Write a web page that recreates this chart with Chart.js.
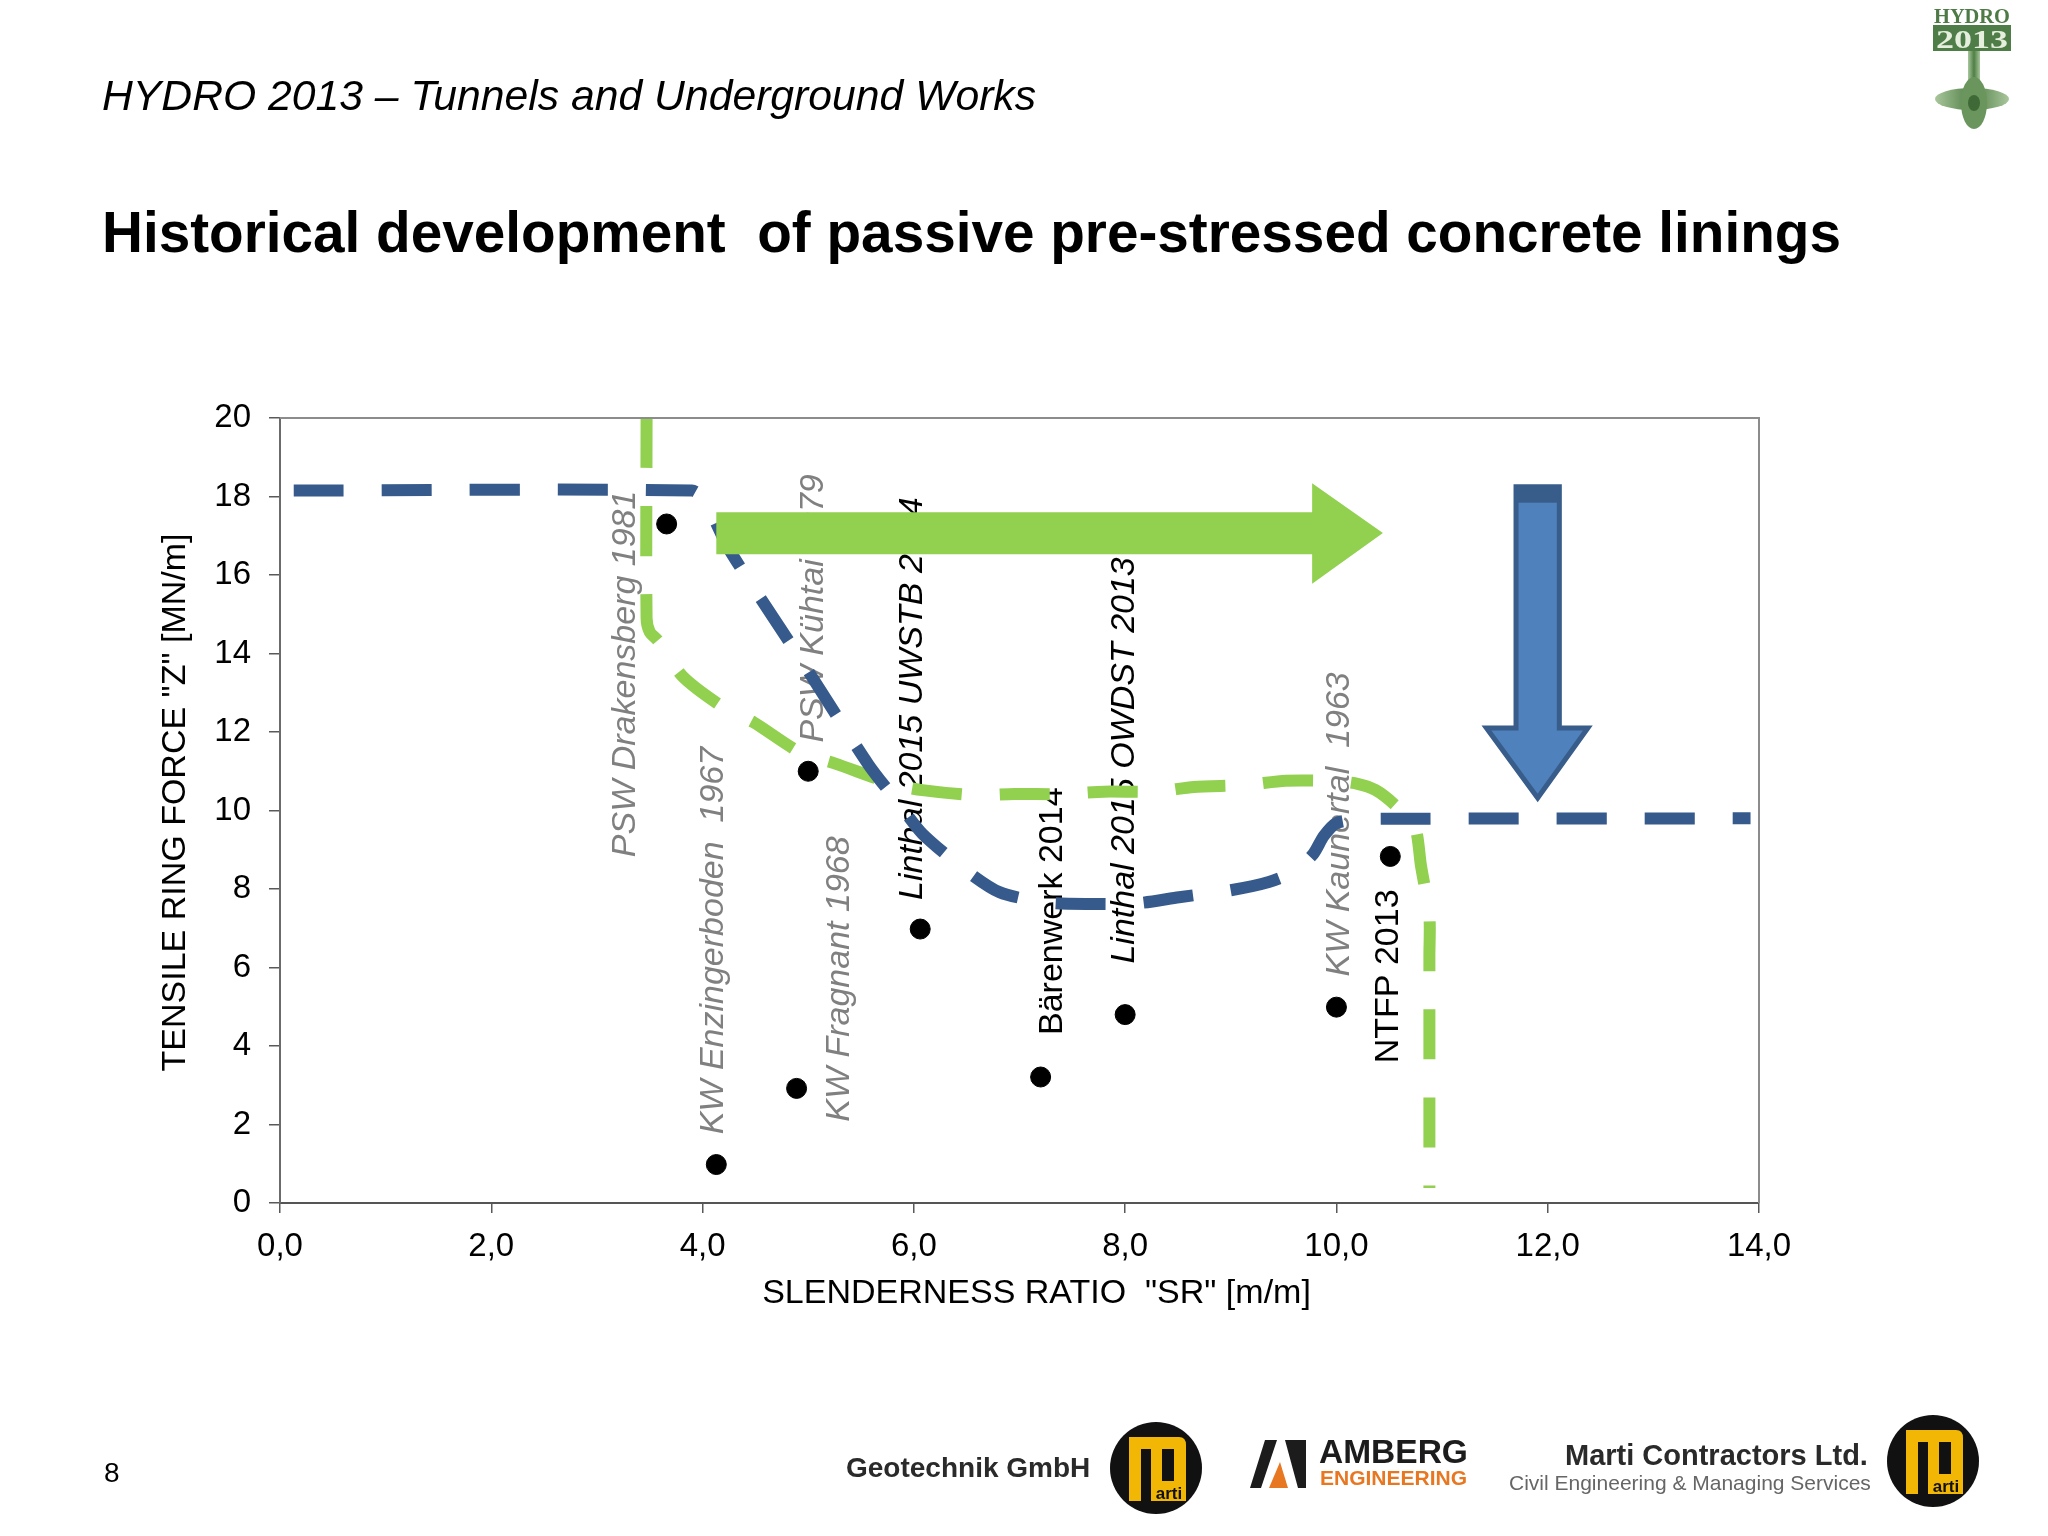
<!DOCTYPE html>
<html>
<head>
<meta charset="utf-8">
<title>Historical development of passive pre-stressed concrete linings</title>
<script src="https://cdn.jsdelivr.net/npm/chart.js@4.4.1/dist/chart.umd.min.js"></script>
<style>
  html, body { margin: 0; padding: 0; background: #fff; }
  #pagina { position: relative; width: 2048px; height: 1536px; overflow: hidden; font-family: "Liberation Sans", Arial, sans-serif; color: #000; }
  #grafica { position: absolute; left: 0; top: 0; }
  .txt { position: absolute; white-space: nowrap; line-height: 1; }
  .logo { position: absolute; }
</style>
</head>
<body>
<div id="pagina">
  <canvas id="grafica" width="2048" height="1536"></canvas>

  <div class="txt" style="left:102px; top:74px; font-size:42.7px; font-style:italic;">HYDRO 2013 – Tunnels and Underground Works</div>
  <div class="txt" style="left:102px; top:205px; font-size:56.7px; font-weight:bold;">Historical development&nbsp; of passive pre-stressed concrete linings</div>

  <!-- logo HYDRO 2013 -->
  <svg class="logo" style="left:1930px; top:0px;" width="84" height="132" viewBox="0 0 84 132">
    <defs>
      <linearGradient id="turb" x1="0" x2="1" y1="0" y2="0">
        <stop offset="0" stop-color="#a9c69c"/>
        <stop offset="0.5" stop-color="#4f7f45"/>
        <stop offset="1" stop-color="#a9c69c"/>
      </linearGradient>
    </defs>
    <text x="42" y="23" font-family="Liberation Serif, serif" font-weight="bold" font-size="21" fill="#4d7a45" text-anchor="middle" textLength="76" lengthAdjust="spacingAndGlyphs">HYDRO</text>
    <rect x="3" y="25" width="78" height="26" fill="#4e7d47"/>
    <text x="42" y="48" font-family="Liberation Serif, serif" font-weight="bold" font-size="25" fill="#e6efde" text-anchor="middle" textLength="72" lengthAdjust="spacingAndGlyphs">2013</text>
    <rect x="38" y="51" width="12" height="32" fill="url(#turb)"/>
    <ellipse cx="42" cy="99" rx="37" ry="11" fill="url(#turb)"/>
    <ellipse cx="44" cy="103" rx="13" ry="26" fill="#6a955d"/>
    <ellipse cx="44" cy="103" rx="6" ry="8" fill="#3f6a37"/>
  </svg>

  <div class="txt" style="left:104px; top:1459px; font-size:28px;">8</div>

  <!-- logos pie de pagina -->
  <div class="txt" style="left:846px; top:1454px; font-size:28px; font-weight:bold; color:#2a2a2a;">Geotechnik GmbH</div>
  <svg class="logo" style="left:1109px; top:1421px;" width="94" height="94" viewBox="0 0 94 94">
    <circle cx="47" cy="47" r="46" fill="#111"/>
    <path d="M20 16 H70 Q77 16 77 24 V60 H65 V28 H53 V60 H42 V28 H32 V80 H20 Z" fill="#f2b705"/>
    <rect x="42" y="60" width="35" height="20" fill="#f2b705"/>
    <text x="60" y="78" font-family="Liberation Sans, Arial" font-weight="bold" font-size="17" fill="#111" text-anchor="middle">arti</text>
  </svg>

  <svg class="logo" style="left:1250px; top:1440px;" width="60" height="48" viewBox="0 0 60 48">
    <polygon points="0,48 15,0 27,0 11,48" fill="#1c1c1c"/>
    <polygon points="35,0 56,0 56,48 48,48" fill="#1c1c1c"/>
    <polygon points="19,48 30,22 38,48" fill="#e87722"/>
  </svg>
  <div class="txt" style="left:1319px; top:1435px; font-size:33.5px; font-weight:bold; color:#1c1c1c;">AMBERG</div>
  <div class="txt" style="left:1320px; top:1467px; font-size:21px; font-weight:bold; color:#e87722;">ENGINEERING</div>

  <div class="txt" style="left:1565px; top:1441px; font-size:29px; font-weight:bold; color:#2a2a2a;">Marti Contractors Ltd.</div>
  <div class="txt" style="left:1509px; top:1472px; font-size:21px; color:#666;">Civil Engineering &amp; Managing Services</div>
  <svg class="logo" style="left:1886px; top:1414px;" width="94" height="94" viewBox="0 0 94 94">
    <circle cx="47" cy="47" r="46" fill="#111"/>
    <path d="M20 16 H70 Q77 16 77 24 V60 H65 V28 H53 V60 H42 V28 H32 V80 H20 Z" fill="#f2b705"/>
    <rect x="42" y="60" width="35" height="20" fill="#f2b705"/>
    <text x="60" y="78" font-family="Liberation Sans, Arial" font-weight="bold" font-size="17" fill="#111" text-anchor="middle">arti</text>
  </svg>
</div>

<script>
// --- Datos ---

// proyectos (puntos negros): SR [m/m] y Z [MN/m]
const proyectosSR = [3.66, 4.13, 4.89, 5.0, 6.06, 7.2, 8.0, 10.0, 10.51];
const proyectosZ = [17.3, 0.98, 2.92, 11.0, 6.98, 3.21, 4.8, 4.99, 8.83];

// curva azul discontinua
const curvaAzulSR = [0.13, 3.9, 4.02, 4.25, 4.91, 5.57, 5.87, 6.08, 6.48, 6.81, 7.24, 7.66, 8.13, 8.51, 8.98, 9.36, 9.6, 9.78, 9.88, 10.0, 10.2, 10.48, 13.92];
const curvaAzulZ = [18.15, 18.15, 17.9, 16.66, 13.93, 11.17, 10.13, 9.41, 8.5, 7.92, 7.66, 7.62, 7.64, 7.79, 7.96, 8.18, 8.45, 8.89, 9.35, 9.68, 9.77, 9.79, 9.8];

// curva verde discontinua
const curvaVerdeSR = [3.47, 3.47, 3.5, 3.58, 3.81, 4.19, 4.48, 4.93, 5.25, 5.83, 6.08, 6.57, 6.95, 7.42, 7.8, 8.29, 8.65, 9.14, 9.52, 9.99, 10.2, 10.37, 10.55, 10.74, 10.8, 10.88, 10.88, 10.88];
const curvaVerdeZ = [20.0, 14.9, 14.55, 14.32, 13.42, 12.64, 12.25, 11.47, 11.2, 10.65, 10.52, 10.39, 10.42, 10.42, 10.48, 10.48, 10.6, 10.65, 10.76, 10.75, 10.68, 10.52, 10.15, 9.61, 8.6, 7.3, 6.3, 0.38];

// etiquetas de los proyectos (texto vertical), posicion en unidades del grafico
const etiquetasTexto = ['PSW Drakensberg 1981', 'KW Enzingerboden  1967', 'PSW Kühtai 1979', 'KW Fragnant 1968',
  'Linthal 2015 UWSTB 2014', 'Bärenwerk 2014', 'Linthal 2015 OWDST 2013', 'KW Kaunertal  1963', 'NTFP 2013'];
const etiquetasSR = [3.27, 4.10, 5.05, 5.30, 5.99, 7.31, 7.99, 10.03, 10.49];
const etiquetasZ = [8.81, 1.75, 11.73, 2.07, 7.72, 4.28, 6.1, 5.77, 3.56];
const etiquetasTipo = ['gris', 'gris', 'gris', 'gris', 'negra', 'normal', 'negra', 'gris', 'normal'];

// flechas (en unidades del grafico)
const flechaVerde = [[4.13, 17.6], [9.77, 17.6], [9.77, 18.34], [10.44, 17.07], [9.77, 15.78], [9.77, 16.53], [4.13, 16.53]];
const flechaAzul = [[11.70, 18.25], [12.11, 18.25], [12.11, 12.1], [12.38, 12.1], [11.905, 10.32], [11.42, 12.1], [11.70, 12.1]];

const tituloX = 'SLENDERNESS RATIO  "SR" [m/m]';
const tituloY = 'TENSILE RING FORCE "Z" [MN/m]';

const FUENTE = "'Liberation Sans', Arial, sans-serif";

document.addEventListener('DOMContentLoaded', () => {
  const aPuntos = (xs, ys) => xs.map((x, i) => ({ x, y: ys[i] }));

  // --- Plugin: etiquetas, marco, flechas y titulos de ejes ---
  const etiquetasPlugin = {
    id: 'etiquetas',
    beforeDatasetsDraw(chart) {
      const { ctx, scales: { x, y } } = chart;
      ctx.save();
      etiquetasTexto.forEach((texto, i) => {
        const tipo = etiquetasTipo[i];
        ctx.save();
        ctx.translate(x.getPixelForValue(etiquetasSR[i]), y.getPixelForValue(etiquetasZ[i]));
        ctx.rotate(-Math.PI / 2);
        ctx.font = (tipo === 'normal' ? '' : 'italic ') + '34px ' + FUENTE;
        ctx.fillStyle = tipo === 'gris' ? '#808080' : '#000';
        ctx.textAlign = 'left';
        ctx.textBaseline = 'middle';
        ctx.fillText(texto, 0, 0);
        ctx.restore();
      });
      ctx.restore();
    },
    afterDatasetsDraw(chart) {
      const { ctx, chartArea: ca, scales: { x, y } } = chart;
      const trazar = (pts) => {
        ctx.beginPath();
        pts.forEach(([px, py], i) => {
          const X = x.getPixelForValue(px), Y = y.getPixelForValue(py);
          if (i === 0) ctx.moveTo(X, Y); else ctx.lineTo(X, Y);
        });
        ctx.closePath();
      };
      ctx.save();
      // marco superior y derecho
      ctx.strokeStyle = '#8c8c8c';
      ctx.lineWidth = 2;
      ctx.beginPath();
      ctx.moveTo(ca.left, ca.top);
      ctx.lineTo(ca.right, ca.top);
      ctx.lineTo(ca.right, ca.bottom);
      ctx.stroke();

      // flecha verde
      trazar(flechaVerde);
      ctx.fillStyle = '#92d050';
      ctx.fill();

      // flecha azul
      trazar(flechaAzul);
      ctx.fillStyle = '#4f81bd';
      ctx.fill();
      ctx.lineJoin = 'miter';
      ctx.lineWidth = 5;
      ctx.strokeStyle = '#385d8a';
      ctx.stroke();
      const xl = x.getPixelForValue(flechaAzul[0][0]);
      const xr = x.getPixelForValue(flechaAzul[1][0]);
      const yt = y.getPixelForValue(flechaAzul[0][1]);
      ctx.fillStyle = '#385d8a';
      ctx.fillRect(xl, yt, xr - xl, 16);
      ctx.restore();
    },
    afterDraw(chart) {
      // titulos de los ejes (un poco descentrados, como en el original)
      const { ctx, chartArea: ca } = chart;
      ctx.save();
      ctx.font = '34px ' + FUENTE;
      ctx.fillStyle = '#000';
      ctx.textAlign = 'center';
      ctx.textBaseline = 'middle';
      ctx.fillText(tituloX, (ca.left + ca.right) / 2 + 17, ca.bottom + 91);
      ctx.translate(ca.left - 104, (ca.top + ca.bottom) / 2 - 8);
      ctx.rotate(-Math.PI / 2);
      ctx.fillText(tituloY, 0, 0);
      ctx.restore();
    }
  };

  const ctx = document.getElementById('grafica');

  new Chart(ctx, {
    type: 'scatter',
    data: {
      datasets: [
        {
          label: 'Proyectos',
          data: aPuntos(proyectosSR, proyectosZ),
          backgroundColor: '#000',
          borderColor: '#000',
          pointRadius: 10,
          pointHoverRadius: 10
        },
        {
          label: 'Curva azul',
          type: 'line',
          data: aPuntos(curvaAzulSR, curvaAzulZ),
          borderColor: '#375a8c',
          borderWidth: 12,
          borderDash: [50, 38],
          borderCapStyle: 'butt',
          pointRadius: 0,
          tension: 0.25,
          fill: false
        },
        {
          label: 'Curva verde',
          type: 'line',
          data: aPuntos(curvaVerdeSR, curvaVerdeZ),
          borderColor: '#92d050',
          borderWidth: 12,
          borderDash: [50, 38],
          borderCapStyle: 'butt',
          pointRadius: 0,
          tension: 0.25,
          fill: false
        }
      ]
    },
    options: {
      responsive: false,
      devicePixelRatio: 1,
      animation: false,
      layout: { padding: { left: 100, top: 418, right: 289, bottom: 213 } },
      plugins: {
        legend: { display: false },
        tooltip: { enabled: false }
      },
      scales: {
        x: {
          type: 'linear',
          min: 0,
          max: 14,
          afterFit: (s) => { s.height = 120; },
          ticks: {
            stepSize: 2,
            color: '#000',
            padding: 14,
            font: { family: FUENTE, size: 33 },
            callback: (v) => v.toFixed(1).replace('.', ',')
          },
          grid: { drawOnChartArea: false, tickLength: 10, color: '#595959', lineWidth: 1.5 },
          border: { color: '#555', width: 2 }
        },
        y: {
          type: 'linear',
          min: 0,
          max: 20,
          afterFit: (s) => { s.width = 180; },
          ticks: {
            stepSize: 2,
            color: '#000',
            padding: 18,
            font: { family: FUENTE, size: 33 }
          },
          grid: { drawOnChartArea: false, tickLength: 11, color: '#595959', lineWidth: 1.5 },
          border: { color: '#6b6b6b', width: 2 }
        }
      }
    },
    plugins: [etiquetasPlugin]
  });
});
</script>
</body>
</html>
